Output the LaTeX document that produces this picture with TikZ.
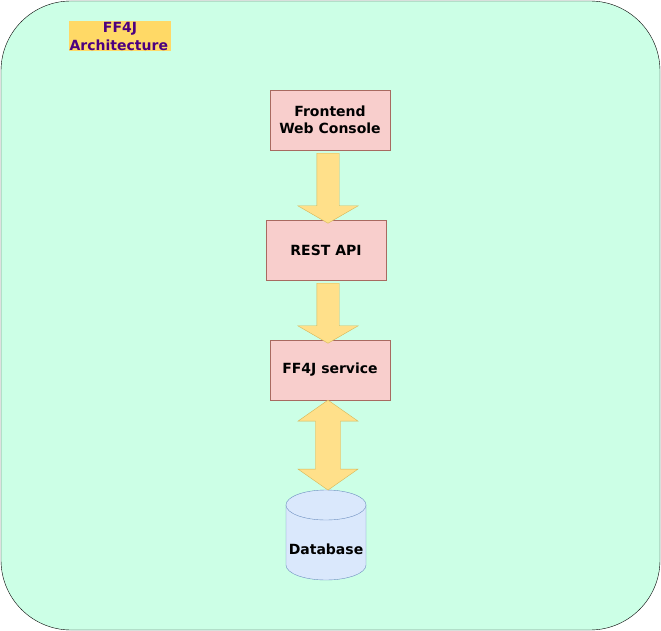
\documentclass[tikz,border=0pt]{standalone}
\usepackage{fontspec}
\setmainfont{DejaVu Sans}
\usepackage{tikz}
\usetikzlibrary{shapes.arrows,calc}
\definecolor{mint}{HTML}{CCFFE6}
\definecolor{boxfill}{HTML}{F8CECC}
\definecolor{boxline}{HTML}{A86A60}
\definecolor{dbfill}{HTML}{DAE8FC}
\definecolor{dbline}{HTML}{6C8EBF}
\definecolor{arrfill}{HTML}{FFE08A}
\definecolor{arrline}{HTML}{D6B656}
\definecolor{titlebg}{HTML}{FFD966}
\definecolor{titlefg}{HTML}{4C0080}
\begin{document}
\begin{tikzpicture}
  [x=1pt, y=-1pt,
   block/.style={draw=boxline, fill=boxfill, minimum width=120pt, minimum height=60pt,
     inner sep=0, align=center, font=\fontsize{14}{17}\selectfont\bfseries},
   fatarrow/.style={single arrow, draw=arrline, fill=arrfill, minimum width=60pt,
     inner sep=11pt, single arrow head extend=19pt, single arrow tip angle=120,
     shape border rotate=270, anchor=center},
   fatdouble/.style={double arrow, draw=arrline, fill=arrfill, minimum width=60pt,
     inner sep=12pt, double arrow head extend=17pt, double arrow tip angle=110,
     shape border rotate=270, anchor=center}]

  % frame
  \useasboundingbox (0,0) rectangle (661,631);
  \draw[fill=mint, rounded corners=70pt] (1,1) rectangle (660,630);

  % title
  \node[fill=titlebg, text=titlefg, inner sep=1pt, align=center,
        font=\fontsize{14}{18}\selectfont\bfseries] (title) at (120,36)
        {FF4J\\Architecture\,};

  % blocks
  \node[block] (front) at (330,120) {Frontend\\Web Console};
  \node[block] (rest) at (326,250) {REST API};
  \node[block] (svc) at (330,370) {FF4J service};

  % database cylinder
  \draw[draw=dbline, fill=dbfill] (286,505) -- (286,565) arc[start angle=180, end angle=0,
        x radius=40, y radius=15] -- (366,505);
  \draw[draw=dbline, fill=dbfill] (326,505) ellipse[x radius=40, y radius=15];
  \coordinate (dbtop) at (326,490);
  \node[font=\fontsize{14}{17}\selectfont\bfseries] (db) at (326,549) {Database};

  % connectors
  \node[fatarrow, minimum height=70pt] (a1) at ($(front.south)!0.5!(rest.north)$) {};
  \node[fatarrow, minimum height=60pt] (a2) at ($(rest.south)!0.5!(svc.north)$) {};
  \node[fatdouble, minimum height=90pt] (a3) at ($(svc.south)!0.5!(dbtop)$) {};
\end{tikzpicture}
\end{document}
